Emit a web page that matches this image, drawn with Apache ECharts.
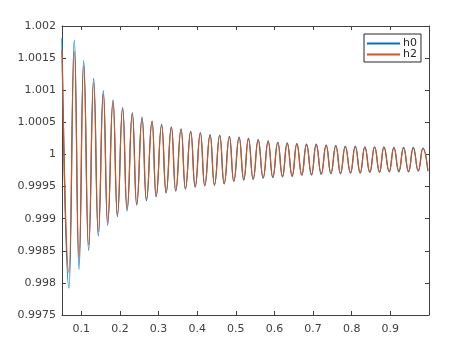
<!DOCTYPE html>
<html>
<head>
<meta charset="utf-8">
<script src="https://cdn.jsdelivr.net/npm/echarts@6/dist/echarts.min.js"></script>
<style>
  html, body { margin: 0; padding: 0; background: #fff; }
  #chart { width: 474px; height: 355px; }
</style>
</head>
<body>
<div id="chart"></div>
<script>
// extrema (peak, trough, peak, trough ...)
var peakX = [0.05, 0.0819, 0.1060, 0.1319, 0.1570, 0.1821, 0.2070, 0.2321, 0.2573, 0.2832,
  0.3080, 0.3332, 0.3583, 0.3832, 0.4083, 0.4334, 0.4583, 0.4834, 0.5085, 0.5326,
  0.5578, 0.5837, 0.6086, 0.6329, 0.6578, 0.6829, 0.7080, 0.7339, 0.7588, 0.7832,
  0.8091, 0.8339, 0.8591, 0.8832, 0.9091, 0.9342, 0.9593, 0.9842]
var troughX = [0.0681, 0.0940, 0.1189, 0.1440, 0.1681, 0.1933, 0.2184, 0.2433, 0.2684, 0.2935,
  0.3194, 0.3443, 0.3694, 0.3946, 0.4194, 0.4446, 0.4697, 0.4946, 0.5205, 0.5448,
  0.5707, 0.5956, 0.6207, 0.6459, 0.6707, 0.6959, 0.7210, 0.7459, 0.7710, 0.7969,
  0.8220, 0.8469, 0.8720, 0.8971, 0.9220, 0.9471, 0.9723, 0.9971]
var h0Peaks = [1.00181, 1.00178, 1.00146, 1.00118, 1.00099, 1.00085, 1.00073, 1.00065, 1.00058, 1.00052,
  1.00047, 1.00043, 1.00040, 1.00036, 1.00034, 1.00031, 1.00030, 1.00028, 1.00027, 1.00025,
  1.00023, 1.00021, 1.00019, 1.00018, 1.00017, 1.00016, 1.00016, 1.00015, 1.00014, 1.00013,
  1.00013, 1.00012, 1.00012, 1.00012, 1.00011, 1.00011, 1.00011, 1.00010]
var h0Troughs = [0.99792, 0.99821, 0.99851, 0.99873, 0.99890, 0.99903, 0.99912, 0.99921, 0.99928, 0.99934,
  0.99940, 0.99943, 0.99946, 0.99949, 0.99951, 0.99952, 0.99954, 0.99958, 0.99960, 0.99961,
  0.99963, 0.99964, 0.99965, 0.99966, 0.99968, 0.99968, 0.99969, 0.99970, 0.99970, 0.99971,
  0.99971, 0.99972, 0.99972, 0.99973, 0.99973, 0.99973, 0.99974, 0.99974]
var h2Peaks = [1.00163, 1.00160, 1.00137, 1.00111, 1.00094, 1.00082, 1.00071, 1.00063, 1.00056, 1.00051,
  1.00045, 1.00042, 1.00039, 1.00035, 1.00033, 1.00030, 1.00029, 1.00027, 1.00026, 1.00024,
  1.00022, 1.00020, 1.00018, 1.00017, 1.00016, 1.00015, 1.00015, 1.00014, 1.00013, 1.00012,
  1.00012, 1.00011, 1.00011, 1.00011, 1.00010, 1.00010, 1.00010, 1.00009]
var h2Troughs = [0.99816, 0.99840, 0.99859, 0.99880, 0.99894, 0.99906, 0.99915, 0.99923, 0.99930, 0.99935,
  0.99941, 0.99944, 0.99947, 0.99950, 0.99952, 0.99953, 0.99955, 0.99959, 0.99961, 0.99962,
  0.99964, 0.99965, 0.99966, 0.99967, 0.99968, 0.99969, 0.99970, 0.99971, 0.99971, 0.99972,
  0.99972, 0.99973, 0.99973, 0.99974, 0.99974, 0.99974, 0.99975, 0.99975]

var xTicks = [0.1, 0.2, 0.3, 0.4, 0.5, 0.6, 0.7, 0.8, 0.9]
var yTicks = [0.9975, 0.998, 0.9985, 0.999, 0.9995, 1, 1.0005, 1.001, 1.0015, 1.002]

function interleave(peaks, troughs) {
  var out = []
  for (var i = 0; i < peakX.length; i++) {
    out.push([peakX[i], peaks[i]])
    out.push([troughX[i], troughs[i]])
  }
  return out
}

var axisColor = '#404040'
var font = 'DejaVu Sans'

var chart = echarts.init(document.getElementById('chart'))
chart.setOption({
  animation: false,
  grid: { left: 62, right: 45, top: 26, bottom: 40 },
  legend: {
    orient: 'vertical',
    left: 364,
    top: 34,
    padding: [4, 4, 2, 3],
    itemGap: 0,
    itemWidth: 33,
    itemHeight: 2,
    icon: 'rect',
    borderColor: '#262626',
    borderWidth: 1,
    textStyle: { fontFamily: font, fontSize: 11, color: '#262626', padding: [0, 0, 0, -2] },
    data: ['h0', 'h2']
  },
  xAxis: [
    {
      type: 'value', min: 0.05, max: 1,
      axisLine: { show: true, onZero: false, lineStyle: { color: axisColor } },
      axisTick: { show: true, inside: true, length: 4, customValues: xTicks, lineStyle: { color: axisColor } },
      axisLabel: { customValues: xTicks, fontFamily: font, fontSize: 11, color: '#404040', margin: 9,
        formatter: function (v) { return String(+v.toFixed(2)) } },
      splitLine: { show: false }
    },
    {
      type: 'value', min: 0.05, max: 1, position: 'top',
      axisLine: { show: true, onZero: false, lineStyle: { color: axisColor } },
      axisTick: { show: true, inside: true, length: 4, customValues: xTicks, lineStyle: { color: axisColor } },
      axisLabel: { show: false },
      splitLine: { show: false }
    }
  ],
  yAxis: [
    {
      type: 'value', min: 0.9975, max: 1.002,
      axisLine: { show: true, onZero: false, lineStyle: { color: axisColor } },
      axisTick: { show: true, inside: true, length: 4, customValues: yTicks, lineStyle: { color: axisColor } },
      axisLabel: { customValues: yTicks, fontFamily: font, fontSize: 11, color: '#404040', margin: 6,
        formatter: function (v) { return String(+v.toFixed(4)) } },
      splitLine: { show: false }
    },
    {
      type: 'value', min: 0.9975, max: 1.002, position: 'right',
      axisLine: { show: true, onZero: false, lineStyle: { color: axisColor } },
      axisTick: { show: true, inside: true, length: 4, customValues: yTicks, lineStyle: { color: axisColor } },
      axisLabel: { show: false },
      splitLine: { show: false }
    }
  ],
  series: [
    {
      name: 'h0', type: 'line', symbol: 'none', smooth: 0.5, smoothMonotone: 'x',
      data: interleave(h0Peaks, h0Troughs),
      lineStyle: { color: '#0072BD', width: 1.2 },
      itemStyle: { color: '#0072BD' }
    },
    {
      name: 'h2', type: 'line', symbol: 'none', smooth: 0.5, smoothMonotone: 'x',
      data: interleave(h2Peaks, h2Troughs),
      lineStyle: { color: '#D95319', width: 1.2 },
      itemStyle: { color: '#D95319' }
    }
  ]
})
</script>
</body>
</html>
